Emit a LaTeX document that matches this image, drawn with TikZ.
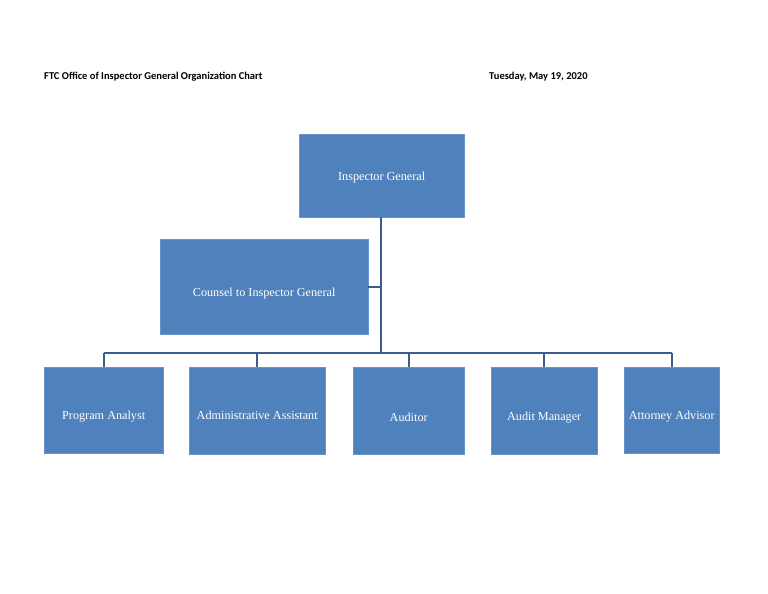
\documentclass[tikz,border=0pt]{standalone}
\usepackage{fontspec}
\setmainfont{Liberation Serif}
\newfontfamily\titlefont{Carlito}
\definecolor{boxblue}{HTML}{4F81BD}
\definecolor{lineblue}{HTML}{3A5F8E}
\begin{document}
\begin{tikzpicture}[x=1pt, y=-1pt,
    post/.style={rectangle, fill=boxblue, draw=boxblue!85!white, text=white,
      font=\fontsize{12.2}{14}\selectfont, inner sep=0pt, anchor=north west,
      text height=21pt, text depth=3pt},
    link/.style={draw=lineblue, line width=1.6pt},
    heading/.style={anchor=west, font=\titlefont\bfseries\fontsize{10.5}{12}\selectfont, inner sep=0pt}]
    \useasboundingbox (0,0) rectangle (768,594);

    \node[heading] (title) at (44,77) {FTC Office of Inspector General Organization Chart};
    \node[heading] (date) at (489,77) {Tuesday, May 19, 2020};

    \node[post, minimum width=165pt, minimum height=83pt, text height=12pt] (ig) at (299,134) {Inspector General};
    \node[post, minimum width=208pt, minimum height=95pt, text height=23pt] (counsel) at (160,239) {Counsel to Inspector General};

    \node[post, minimum width=119pt, minimum height=86pt] (analyst) at (44,367) {Program Analyst};
    \node[post, minimum width=136pt, minimum height=87pt] (admin) at (189,367) {Administrative Assistant};
    \node[post, minimum width=111pt, minimum height=87pt, text height=25pt] (auditor) at (353,367) {Auditor};
    \node[post, minimum width=106pt, minimum height=87pt, text height=22pt] (manager) at (491,367) {Audit Manager};
    \node[post, minimum width=95pt, minimum height=86pt] (attorney) at (624,367) {Attorney Advisor};

    \coordinate (bar) at (381,353);

    \draw[link] (ig.south -| bar) -- (bar);
    \draw[link] (counsel.east) -- (counsel.east -| bar);
    \draw[link] (analyst.north |- bar) -- (attorney.north |- bar);
    \draw[link] (analyst.north |- bar) -- (analyst.north);
    \draw[link] (admin.north |- bar) -- (admin.north);
    \draw[link] (auditor.north |- bar) -- (auditor.north);
    \draw[link] (manager.north |- bar) -- (manager.north);
    \draw[link] (attorney.north |- bar) -- (attorney.north);
\end{tikzpicture}
\end{document}
